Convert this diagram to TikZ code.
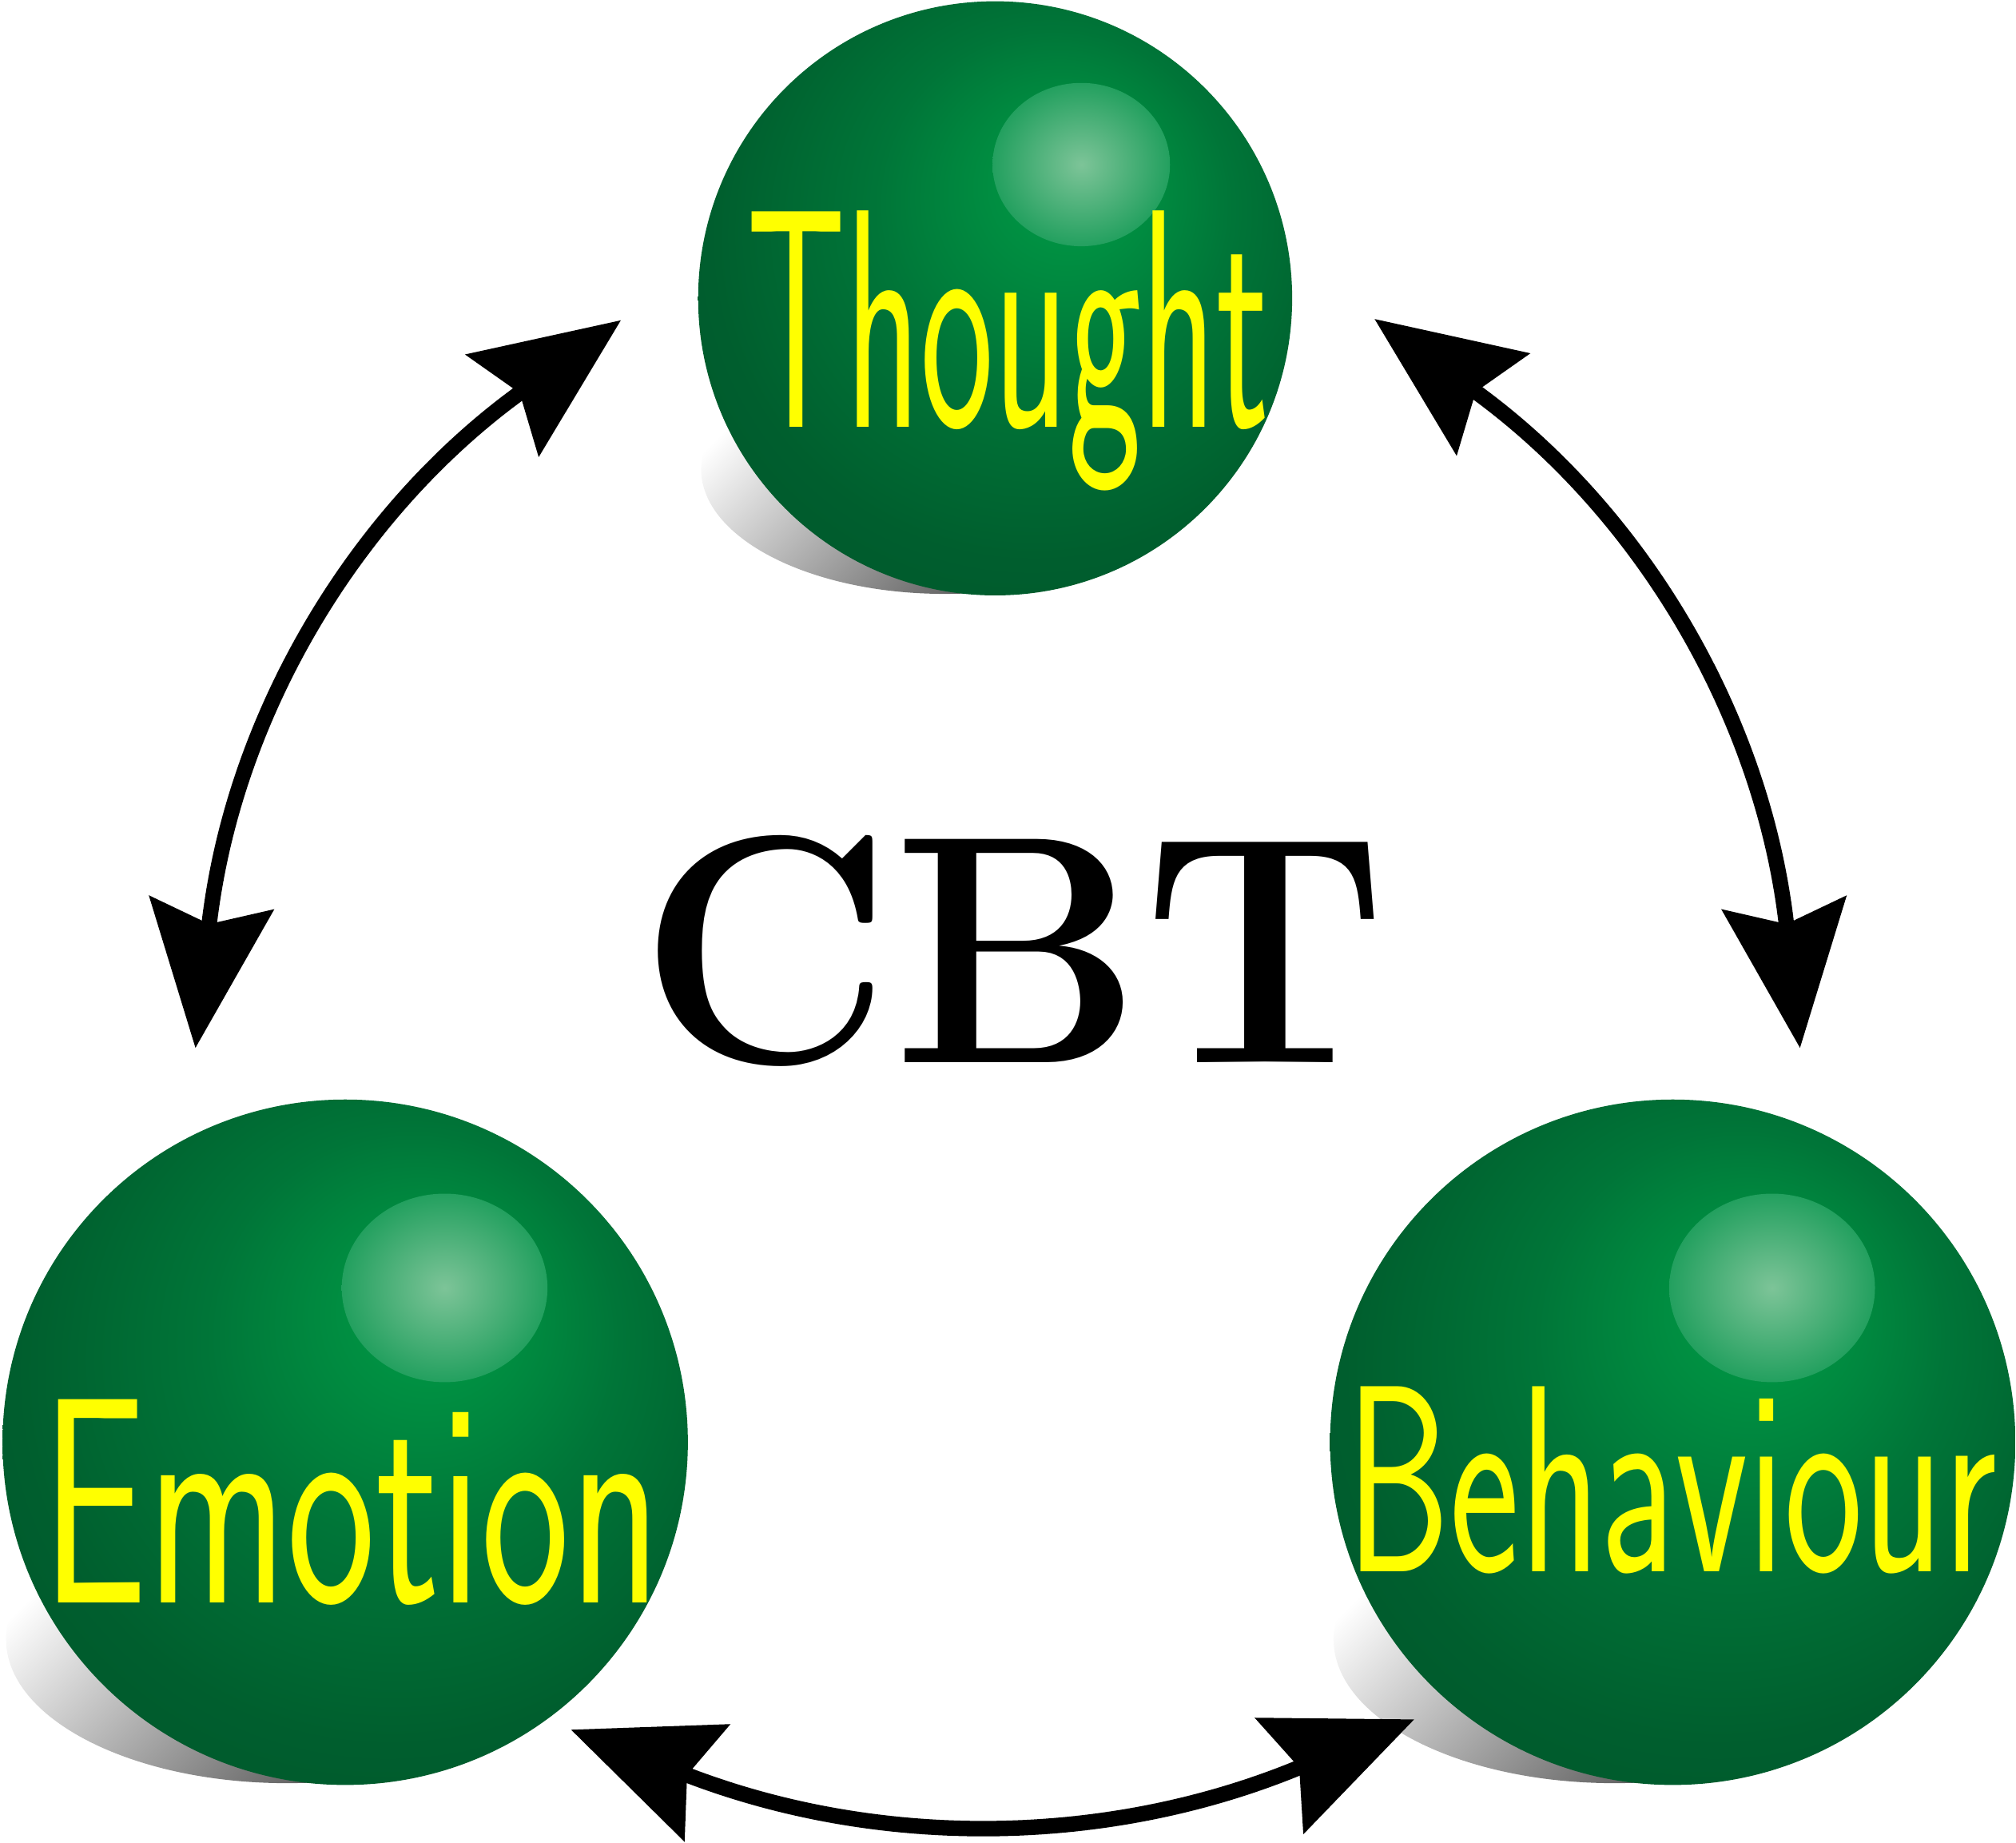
\documentclass[tikz,border=0pt]{standalone}
\usepackage{fontspec}
\usepackage{tikz}
\usetikzlibrary{arrows.meta}

\definecolor{glossin}{RGB}{125,196,152}
\definecolor{glossout}{RGB}{35,160,95}
\definecolor{wordyellow}{RGB}{255,255,0}

\pgfdeclareradialshading{cbtball}{\pgfpoint{7bp}{11bp}}{%
  rgb(0bp)=(0,0.58,0.27);
  rgb(5bp)=(0,0.57,0.26);
  rgb(15bp)=(0,0.46,0.22);
  rgb(27bp)=(0,0.37,0.18);
  rgb(38bp)=(0,0.33,0.17);
  rgb(50bp)=(0,0.32,0.16)}

\tikzset{
  ball/.style={circle, shade, shading=cbtball, inner sep=0pt},
  ballshadow/.style={top color=white, bottom color=black!80, shading angle=45},
  gloss/.style={inner color=glossin, outer color=glossout},
  word/.style={text=wordyellow, font=\sffamily, anchor=base, inner sep=0pt},
  cbtarrow/.style={line width=1.2mm,
    {Stealth[length=11.3mm,width=9.6mm,inset=1.6mm]}-{Stealth[length=11.3mm,width=9.6mm,inset=1.6mm]}}
}

\begin{document}
\begin{tikzpicture}
\useasboundingbox (0,0) rectangle (15.68,-14.33);

% shadows under the balls
\shade[ballshadow] (7.347,-3.648) ellipse (1.894 and 0.970);
\shade[ballshadow] (2.232,-12.747) ellipse (2.185 and 1.119);
\shade[ballshadow] (12.557,-12.747) ellipse (2.185 and 1.119);

% balls
\node[ball, minimum size=4.62cm] (thought) at (7.74,-2.32) {};
\node[ball, minimum size=5.33cm] (emotion) at (2.685,-11.215) {};
\node[ball, minimum size=5.33cm] (behaviour) at (13.01,-11.215) {};

\shade[gloss] ([shift={(0.67,1.04)}]thought.center) ellipse (0.69 and 0.635);
\shade[gloss] ([shift={(0.773,1.2)}]emotion.center) ellipse (0.80 and 0.733);
\shade[gloss] ([shift={(0.773,1.2)}]behaviour.center) ellipse (0.80 and 0.733);

% words
\node[word] (thought-word) at ([shift={(0.10,-1.00)}]thought.center)
  {\fontsize{69}{69}\selectfont\scalebox{0.497}[1]{Thought}};
\node[word] (emotion-word) at ([shift={(0.05,-1.25)}]emotion.center)
  {\fontsize{65}{65}\selectfont\scalebox{0.64}[1]{Emotion}};
\node[word] (behaviour-word) at ([shift={(-0.01,-1.005)}]behaviour.center)
  {\fontsize{59}{59}\selectfont\scalebox{0.625}[1]{Behaviour}};

\node[anchor=base, inner sep=0pt] (cbt) at (7.88,-8.26)
  {\fontsize{72}{72}\selectfont\bfseries\scalebox{0.96}[1]{CBT}};

% arrows
\coordinate (thought-w) at ([shift={(-2.91,-0.17)}]thought.center);
\coordinate (thought-e) at ([shift={(2.95,-0.16)}]thought.center);
\coordinate (emotion-n) at ([shift={(-1.165,3.065)}]emotion.center);
\coordinate (emotion-se) at ([shift={(1.755,-2.235)}]emotion.center);
\coordinate (behaviour-n) at ([shift={(0.99,3.065)}]behaviour.center);
\coordinate (behaviour-sw) at ([shift={(-2.01,-2.155)}]behaviour.center);

\draw[cbtarrow] (thought-w) to[bend right=24] (emotion-n);
\draw[cbtarrow] (thought-e) to[bend left=24] (behaviour-n);
\draw[cbtarrow] (emotion-se) to[bend right=22] (behaviour-sw);
\end{tikzpicture}
\end{document}
